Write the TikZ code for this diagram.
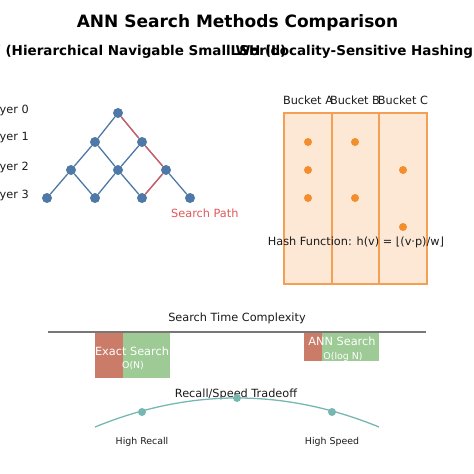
\documentclass[tikz,border=0pt]{standalone}
\usepackage{fontspec}
\setmainfont{DejaVu Sans}
\usetikzlibrary{positioning}
\usepackage{xcolor}
\definecolor{hnswblue}{HTML}{4E79A7}
\definecolor{pathred}{HTML}{E15759}
\definecolor{lshorange}{HTML}{F28E2B}
\definecolor{lshborder}{HTML}{F3A055}
\definecolor{lshfill}{HTML}{FDE8D5}
\definecolor{exactred}{HTML}{CB7C69}
\definecolor{anngreen}{HTML}{9DCA95}
\definecolor{tradeteal}{HTML}{76B7B2}
\definecolor{axisgray}{HTML}{777777}
\definecolor{textprimary}{HTML}{1A1A1A}

\tikzset{
  vertex/.style={circle,fill=hnswblue,inner sep=0pt,minimum size=10pt},
  hashdot/.style={circle,fill=lshorange,inner sep=0pt,minimum size=8pt},
  tradedot/.style={circle,fill=tradeteal,inner sep=0pt,minimum size=8pt},
  lbl/.style={text=textprimary,inner sep=0pt,font=\fontsize{11.3}{13}\selectfont},
  smalllbl/.style={text=textprimary,inner sep=0pt,font=\fontsize{9.4}{11}\selectfont},
  barlbl/.style={text=white,inner sep=0pt,font=\fontsize{11.3}{13}\selectfont},
  barsub/.style={text=white,inner sep=0pt,font=\fontsize{9.4}{11}\selectfont}
}

\begin{document}
\begin{tikzpicture}[x=1pt,y=-1pt]
    \useasboundingbox (0,0) rectangle (474,474);
    \clip (0,0) rectangle (474,474);

    % Titles
    \node[text=black,inner sep=0pt,font=\fontsize{17}{20}\selectfont\bfseries] (title) at (237.5,23) {ANN Search Methods Comparison};
    \node[text=black,inner sep=0pt,font=\fontsize{13.5}{16}\selectfont\bfseries] (hnswtitle) at (120,52) {HNSW (Hierarchical Navigable Small World)};
    \node[text=black,inner sep=0pt,font=\fontsize{13.5}{16}\selectfont\bfseries] (lshtitle) at (355,52) {LSH (Locality-Sensitive Hashing)};

    % HNSW layers
    \node[lbl,anchor=east] (layer0) at (29,110) {Layer 0};
    \node[lbl,anchor=east] (layer1) at (29,138) {Layer 1};
    \node[lbl,anchor=east] (layer2) at (29,167) {Layer 2};
    \node[lbl,anchor=east] (layer3) at (29,195) {Layer 3};

    \node[vertex] (n00) at (118,113) {};
    \node[vertex] (n10) at (95,142) {};
    \node[vertex] (n11) at (142,142) {};
    \node[vertex] (n20) at (71,170) {};
    \node[vertex] (n21) at (118,170) {};
    \node[vertex] (n22) at (166,170) {};
    \node[vertex] (n30) at (47,198) {};
    \node[vertex] (n31) at (95,198) {};
    \node[vertex] (n32) at (142,198) {};
    \node[vertex] (n33) at (190,198) {};

    \foreach \a/\b in {n00/n10,n00/n11,n10/n20,n10/n21,n11/n21,n11/n22,
                       n20/n30,n20/n31,n21/n31,n21/n32,n22/n32,n22/n33}
      \draw[hnswblue,line width=1.3pt] (\a) -- (\b);

    % search path
    \draw[pathred,line width=1.1pt] (n00) -- (n11) -- (n22) -- (n32);
    \node[text=pathred,inner sep=0pt,font=\fontsize{11.3}{13}\selectfont,anchor=west] (pathlbl) at (171,213) {Search Path};

    % LSH buckets
    \fill[lshfill] (284,113) rectangle (427,284);
    \foreach \x/\xx in {284/332,332/379,379/427}
      \draw[lshborder,line width=1.1pt] (\x,113) rectangle (\xx,284);
    \node[lbl] (bucketA) at (308,100) {Bucket A};
    \node[lbl] (bucketB) at (355,100) {Bucket B};
    \node[lbl] (bucketC) at (403,100) {Bucket C};

    \node[hashdot] (a1) at (308,142) {};
    \node[hashdot] (a2) at (308,170) {};
    \node[hashdot] (a3) at (308,198) {};
    \node[hashdot] (b1) at (355,142) {};
    \node[hashdot] (b2) at (355,198) {};
    \node[hashdot] (c1) at (403,170) {};
    \node[hashdot] (c2) at (403,227) {};

    \node[lbl] (hashfn) at (356,242) {Hash Function: h(v) = ⌊(v·p)/w⌋};

    % Search time complexity
    \node[lbl] (timetitle) at (237,318) {Search Time Complexity};
    \fill[exactred] (95,332) rectangle (123,378);
    \fill[anngreen] (123,332) rectangle (170,378);
    \fill[exactred] (304,332) rectangle (322,361);
    \fill[anngreen] (322,332) rectangle (379,361);
    \draw[axisgray,line width=1.3pt] (48,332) -- (426,332);
    \node[barlbl] (exact) at (132,351) {Exact Search};
    \node[barsub] (exactO) at (133,366) {O(N)};
    \node[barlbl] (ann) at (342,341) {ANN Search};
    \node[barsub] (annO) at (343,357) {O(log N)};

    % Recall/speed tradeoff
    \node[lbl] (tradetitle) at (236,394) {Recall/Speed Tradeoff};
    \draw[tradeteal,line width=1.3pt] (95,427) .. controls (189.7,388.3) and (284.3,388.3) .. (379,427);
    \node[tradedot] (recall) at (142,412) {};
    \node[tradedot] (mid) at (237,398) {};
    \node[tradedot] (speed) at (332,412) {};
    \node[smalllbl] (recalllbl) at (142,442) {High Recall};
    \node[smalllbl] (speedlbl) at (332,442) {High Speed};
  \end{tikzpicture}
\end{document}
